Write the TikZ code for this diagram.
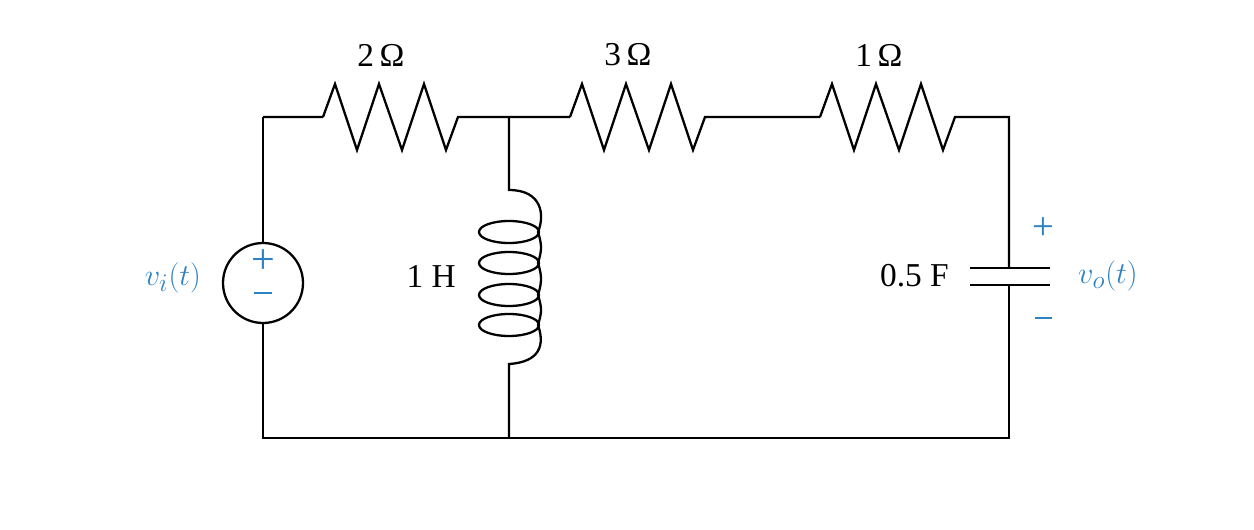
\documentclass[tikz,border=0pt]{standalone}
\usepackage{fontspec}
\setmainfont{Liberation Serif}
\begin{document}
\begin{tikzpicture}[x=0.02cm,y=-0.02cm,
  wire/.style={line width=1.3pt,line join=miter},
  lbl/.style={font=\fontsize{19}{22}\selectfont},
  blu/.style={text=vblue,font=\fontsize{19}{22}\selectfont}]
\definecolor{vblue}{RGB}{45,130,195}
\useasboundingbox (0,0) rectangle (1254,530);
% corners
\coordinate (tl) at (263,117); \coordinate (bl) at (263,438);
\coordinate (tm) at (509,117); \coordinate (bm) at (509,438);
\coordinate (tr) at (1009,117); \coordinate (br) at (1009,438);
% resistors
\newcommand{\zz}[1]{(#1,117) -- ++(12,-33) -- ++(22,66) -- ++(22,-66) -- ++(23,66) -- ++(22,-66) -- ++(22,66) -- ++(12,-33)}
\draw[wire] (tl) -- (323,117) \zz{323} -- (tm) -- (570,117) \zz{570} -- (820,117) \zz{820} -- (tr) -- (1009,268);
\draw[wire] (1009,285) -- (br) -- (bm) -- (bl) -- (263,323);
\draw[wire] (tl) -- (263,243);
\node[draw,circle,line width=1.3pt,minimum size=80*0.02cm,inner sep=0] (src) at (263,283) {};
\node[text=vblue,font=\fontsize{24}{24}\selectfont] at (263,262) {+};
\draw[vblue,line width=1.1pt] (254,293) -- (272,293);
% inductor
\draw[wire] (tm) -- (509,190) .. controls (542,190) and (545,215) .. (538,232)
  .. controls (542,245) and (542,250) .. (538,263)
  .. controls (542,276) and (542,282) .. (538,295)
  .. controls (542,308) and (542,312) .. (538,325)
  .. controls (545,345) and (540,362) .. (509,364) -- (bm);
\foreach \yy in {232,263,295,325} \draw[line width=1.3pt] (509,\yy) ellipse [x radius=30, y radius=11];
% capacitor
\draw[wire] (970,268) -- (1050,268);
\draw[wire] (970,285) -- (1050,285);
\node[text=vblue,font=\fontsize{22}{22}\selectfont] at (1043,229) {+};
\draw[vblue,line width=1.1pt] (1035,318) -- (1052,318);
% labels
\node[lbl] at (381,55) {2\,Ω};
\node[lbl] at (628,55) {3\,Ω};
\node[lbl] at (879,55) {1\,Ω};
\node[lbl,anchor=east] at (462,276) {1 H};
\node[lbl,anchor=east] at (955,276) {0.5 F};
\node[blu,anchor=east] at (207,278) {$v_i(t)$};
\node[blu,anchor=west] at (1072,276) {$v_o(t)$};
\end{tikzpicture}
\end{document}
